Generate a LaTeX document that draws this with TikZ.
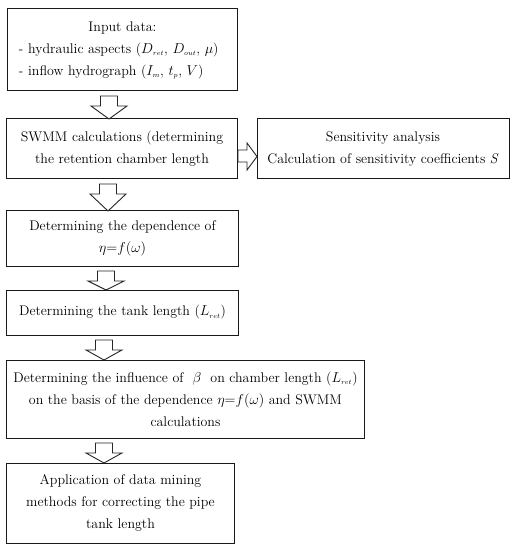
\documentclass[tikz,border=0pt]{standalone}
\usetikzlibrary{calc}
\tikzset{
  x=1bp,y=-1bp,
  box/.style={draw=black!90,line width=1bp,inner sep=0pt,outer sep=0pt,align=center,
    font=\fontsize{14}{22}\selectfont},
  blk/.style={draw=black!85,line width=0.9bp,fill=white,line join=miter},
}
\newcommand\ssub[1]{_{\scriptscriptstyle #1}}
\newcommand\blkdown[3]{% from, to, x centre (bp)
  \draw[blk] let \p1=(#1.south), \p2=(#2.north) in
    ({#3bp-8.5bp},{\y1-5bp}) -- ({#3bp+8.5bp},{\y1-5bp}) -- ({#3bp+8.5bp},{\y1-15bp})
    -- ({#3bp+18bp},{\y1-15bp}) -- ({#3bp},{\y2}) -- ({#3bp-18bp},{\y1-15bp})
    -- ({#3bp-8.5bp},{\y1-15bp}) -- cycle;}
\begin{document}
\begin{tikzpicture}
\useasboundingbox[fill=white] (0,0) rectangle (529,550);
\node[box,minimum width=229bp,minimum height=82bp,text width=207bp,align=left] (b1) at (122.5,50)
  {\makebox[\linewidth]{Input data:}\\
   - hydraulic aspects ($D\ssub{ret}$, $D\ssub{out}$, $\mu$)\\
   - inflow hydrograph ($I\ssub{m}$, $t\ssub{p}$, $V$)};
\node[box,minimum width=230bp,minimum height=60bp] (b2) at (122,149)
  {SWMM calculations (determining\\the retention chamber length};
\node[box,minimum width=252bp,minimum height=60bp] (b3) at (383,149)
  {Sensitivity analysis\\Calculation of sensitivity coefficients \textit{S}};
\node[box,minimum width=231bp,minimum height=55bp] (b4) at (122.5,238.5)
  {Determining the dependence of\\$\eta{=}f(\omega)$};
\node[box,minimum width=231bp,minimum height=45bp] (b5) at (122.5,312.5)
  {Determining the tank length ($L\ssub{ret}$)};
\node[box,minimum width=357bp,minimum height=78bp] (b6) at (185.5,399)
  {Determining the influence of~ $\beta$ ~on chamber length ($L\ssub{ret}$)\\
   on the basis of the dependence $\eta{=}f(\omega)$ and SWMM\\calculations};
\node[box,minimum width=227bp,minimum height=80bp] (b7) at (120.5,503)
  {Application of data mining\\methods for correcting the pipe\\tank length};
\blkdown{b1}{b2}{109}
\blkdown{b2}{b4}{108}
\blkdown{b4}{b5}{106}
\blkdown{b5}{b6}{104}
\blkdown{b6}{b7}{104}
\draw[blk] let \p1=(b2.east), \p2=(b3.west) in
  ({\x1+1bp},{\y1-1bp}) -- ({\x1+10bp},{\y1-1bp}) -- ({\x1+10bp},{\y1+6bp}) -- ({\x2},{\y1-7.5bp})
  -- ({\x1+10bp},{\y1-21bp}) -- ({\x1+10bp},{\y1-13bp}) -- ({\x1+1bp},{\y1-13bp}) -- cycle;
\end{tikzpicture}
\end{document}
